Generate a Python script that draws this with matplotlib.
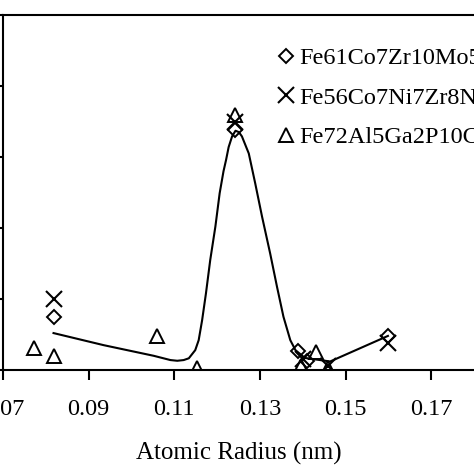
import matplotlib
matplotlib.use("Agg")
import matplotlib.pyplot as plt

plt.rcParams['font.family'] = ['Liberation Serif', 'DejaVu Serif']

labels = ["Fe61Co7Zr10Mo5W2B15", "Fe56Co7Ni7Zr8Nb2B20", "Fe72Al5Ga2P10C6B4Si1"]

diamond_x = [0.0818, 0.1242, 0.1390, 0.1410, 0.1600]
diamond_y = [0.75, 3.38, 0.27, 0.12, 0.48]

cross_x = [0.0818, 0.1242, 0.1400, 0.1460, 0.1600]
cross_y = [1.00, 3.49, 0.15, 0.05, 0.38]

tri_x = [0.0772, 0.0818, 0.1060, 0.1154, 0.1242, 0.1395, 0.1430, 0.1460]
tri_y = [0.31, 0.20, 0.48, 0.03, 3.59, 0.05, 0.25, 0.03]

line_x = [0.0818, 0.0935, 0.1052, 0.1091, 0.1107, 0.1122, 0.1134, 0.1149, 0.1157,
          0.1165, 0.1174, 0.1184, 0.1196, 0.1206, 0.1215, 0.1221, 0.1227, 0.1235,
          0.1243, 0.1251, 0.1258, 0.1266, 0.1274, 0.1289, 0.1305, 0.1324, 0.1340,
          0.1355, 0.1371, 0.1383, 0.1405, 0.1464, 0.1599]
line_y = [0.52, 0.35, 0.20, 0.14, 0.13, 0.14, 0.165, 0.28, 0.42,
          0.70, 1.08, 1.55, 2.02, 2.49, 2.80, 2.96, 3.14, 3.29,
          3.37, 3.35, 3.29, 3.17, 3.05, 2.63, 2.16, 1.64, 1.17,
          0.75, 0.42, 0.28, 0.17, 0.12, 0.48]

xticks = [0.07, 0.09, 0.11, 0.13, 0.15, 0.17]
xticklabels = ["0.07", "0.09", "0.11", "0.13", "0.15", "0.17"]
yticks = [0, 1, 2, 3, 4, 5]

fig = plt.figure(figsize=(4.74, 4.74), dpi=100)
ax = fig.add_axes([3/474, (474-370)/474, 1 - 3/474, (370-15)/474])

ax.plot(line_x, line_y, color='black', lw=1.5, zorder=2, solid_joinstyle='round')
ax.plot(diamond_x, diamond_y, ls='none', marker='D', ms=7, mfc='none', mec='black', mew=1.4,
        label=labels[0], zorder=3)
ax.plot(cross_x, cross_y, ls='none', marker='x', ms=12, mec='black', mew=1.5,
        label=labels[1], zorder=3)
ax.plot(tri_x, tri_y, ls='none', marker='^', ms=10, mfc='none', mec='black', mew=1.4,
        label=labels[2], zorder=3)

ax.set_xlim(0.0705, 0.18)
ax.set_ylim(0, 5)
ax.set_xticks(xticks)
ax.set_xticklabels(xticklabels, fontsize=17.5)
ax.set_yticks(yticks)
ax.set_yticklabels([])
ax.tick_params(axis='x', direction='out', length=7, width=1.5, pad=14)
ax.tick_params(axis='y', direction='out', length=4, width=1.5)
for s in ax.spines.values():
    s.set_linewidth(1.5)
ax.spines['right'].set_visible(False)

ax.set_xlabel("Atomic Radius (nm)", fontsize=18, labelpad=16)

leg = ax.legend(loc='upper left', bbox_to_anchor=(276/474, (474-47)/474),
                bbox_transform=fig.transFigure, frameon=False, fontsize=17.5,
                handlelength=0.8, handletextpad=0.15, labelspacing=0.72,
                borderaxespad=0, borderpad=0)

fig.savefig("out.png", dpi=100, facecolor='white')
